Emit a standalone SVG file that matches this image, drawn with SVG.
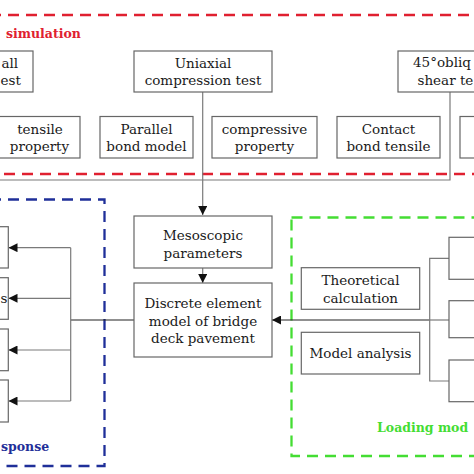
<svg xmlns="http://www.w3.org/2000/svg" width="474" height="474" viewBox="0 0 474 474">
<defs>
<marker id="arr" viewBox="0 0 10 10" refX="10" refY="5" markerWidth="9" markerHeight="9" markerUnits="userSpaceOnUse" orient="auto">
<path d="M0,0 L10,5 L0,10 z" fill="#111"/>
</marker>
<style>
.box{fill:#fff;stroke:#666;stroke-width:1.2}
.t{font-family:"DejaVu Serif","Liberation Serif",serif;font-size:13.5px;fill:#1a1a1a;text-anchor:middle}
.g{fill:none;stroke:#7a7a7a;stroke-width:1.2}
.k{fill:none;stroke:#222;stroke-width:1.2}
.lbl{font-family:"DejaVu Serif","Liberation Serif",serif;font-size:12.5px;font-weight:bold}
</style>
</defs>
<rect width="474" height="474" fill="#fff"/>

<g id="frame-simulation">
<rect x="-10" y="15" width="500" height="159" fill="none" stroke="#e02030" stroke-width="2.5" stroke-dasharray="11,7"/>
<text class="lbl" x="6" y="37.5" fill="#e02030">simulation</text>
</g>
<g id="frame-response">
<rect x="-10" y="199.5" width="114.5" height="266.5" fill="none" stroke="#1f2f99" stroke-width="2.3" stroke-dasharray="11,7"/>
<text class="lbl" x="1" y="450.5" fill="#1f2f99">sponse</text>
</g>
<g id="frame-loading">
<rect x="291.5" y="217.5" width="200" height="238.5" fill="none" stroke="#44dd33" stroke-width="2.3" stroke-dasharray="11,7"/>
<text class="lbl" x="377" y="431.5" fill="#44dd33">Loading mod</text>
</g>

<g id="connectors">
<polyline class="g" points="-5,180 450,180 450,92"/>
<line class="g" x1="202.7" y1="92" x2="202.7" y2="215" marker-end="url(#arr)"/>
<line class="g" x1="202.7" y1="268" x2="202.7" y2="283" marker-end="url(#arr)"/>
<line class="k" x1="134" y1="320" x2="70.7" y2="320"/>
<line class="g" x1="70.7" y1="247.7" x2="70.7" y2="401"/>
<line class="g" x1="70.7" y1="247.7" x2="8.5" y2="247.7" marker-end="url(#arr)"/>
<line class="g" x1="70.7" y1="298.3" x2="8.5" y2="298.3" marker-end="url(#arr)"/>
<line class="g" x1="70.7" y1="350" x2="8.5" y2="350" marker-end="url(#arr)"/>
<line class="g" x1="70.7" y1="401" x2="8.5" y2="401" marker-end="url(#arr)"/>
<line class="k" x1="429.7" y1="320" x2="272" y2="320" marker-end="url(#arr)"/>
<polyline class="g" points="449,258.3 429.7,258.3 429.7,381 449,381"/>
<line class="g" x1="429.7" y1="320" x2="449" y2="320"/>
</g>

<g id="node-wall-test">
<rect class="box" x="-10" y="51" width="43" height="41"/>
<text class="t" x="1.5" y="68" style="text-anchor:start">all</text>
<text class="t" x="0.5" y="85" style="text-anchor:start">est</text>
</g>
<g id="node-uniaxial">
<rect class="box" x="134" y="51" width="138" height="41"/>
<text class="t" x="203" y="68">Uniaxial</text>
<text class="t" x="203" y="85">compression test</text>
</g>
<g id="node-oblique">
<rect class="box" x="398" y="51" width="90" height="41"/>
<text class="t" x="413" y="67" style="text-anchor:start">45°obliq</text>
<text class="t" x="417.5" y="85" style="text-anchor:start">shear te</text>
</g>

<g id="node-tensile-property">
<rect class="box" x="-2" y="116.5" width="82" height="41.5"/>
<text class="t" x="40" y="133.5">tensile</text>
<text class="t" x="39.5" y="151">property</text>
</g>
<g id="node-parallel-bond">
<rect class="box" x="100" y="116.5" width="93" height="41.5"/>
<text class="t" x="146.5" y="133.5">Parallel</text>
<text class="t" x="146.5" y="151">bond model</text>
</g>
<g id="node-compressive">
<rect class="box" x="212" y="116.5" width="105" height="41.5"/>
<text class="t" x="264.5" y="133.5">compressive</text>
<text class="t" x="264.5" y="151">property</text>
</g>
<g id="node-contact-bond">
<rect class="box" x="337" y="116.5" width="103" height="41.5"/>
<text class="t" x="388.5" y="133.5">Contact</text>
<text class="t" x="388.5" y="151">bond tensile</text>
</g>
<g id="node-right-row2">
<rect class="box" x="460" y="116.5" width="30" height="41.5"/>
</g>

<g id="node-mesoscopic">
<rect class="box" x="134" y="216" width="138" height="52"/>
<text class="t" x="203" y="240">Mesoscopic</text>
<text class="t" x="203" y="258">parameters</text>
</g>
<g id="node-dem">
<rect class="box" x="134" y="283" width="138" height="74"/>
<text class="t" x="203" y="308.3">Discrete element</text>
<text class="t" x="203" y="325.8">model of bridge</text>
<text class="t" x="203" y="343.3">deck pavement</text>
</g>

<g id="node-resp-1"><rect class="box" x="-10" y="226.7" width="18.3" height="41.3"/></g>
<g id="node-resp-2"><rect class="box" x="-10" y="277.7" width="18.3" height="41.6"/>
<text class="t" x="0.5" y="303" style="text-anchor:start">s</text></g>
<g id="node-resp-3"><rect class="box" x="-10" y="329" width="18.3" height="41.7"/></g>
<g id="node-resp-4"><rect class="box" x="-10" y="380" width="18.3" height="42"/></g>

<g id="node-theoretical">
<rect class="box" x="301.3" y="267.7" width="118.4" height="41.6"/>
<text class="t" x="360.5" y="285">Theoretical</text>
<text class="t" x="360.5" y="302.7">calculation</text>
</g>
<g id="node-model-analysis">
<rect class="box" x="301.3" y="332.3" width="118.4" height="41.7"/>
<text class="t" x="360.5" y="357.7">Model analysis</text>
</g>
<g id="node-load-1"><rect class="box" x="449" y="237.3" width="40" height="42"/></g>
<g id="node-load-2"><rect class="box" x="449" y="300.7" width="40" height="37"/></g>
<g id="node-load-3"><rect class="box" x="449" y="360" width="40" height="41.7"/></g>
</svg>
